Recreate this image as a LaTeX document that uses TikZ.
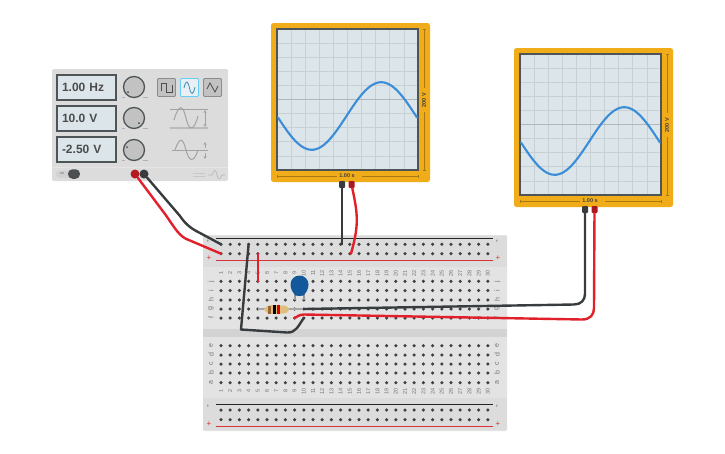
\documentclass[tikz,border=0pt]{standalone}
\usepackage{fontspec}
\setmainfont{Liberation Sans}
\usepackage{tikz}
\usetikzlibrary{arrows.meta}
\usetikzlibrary{calc}

\definecolor{panelgray}{HTML}{DCDCDC}
\definecolor{boardgray}{HTML}{E3E3E3}
\definecolor{stripgray}{HTML}{D3D3D3}
\definecolor{screenblue}{HTML}{DBE5EA}
\definecolor{scopeorange}{HTML}{F0AD19}
\definecolor{edgegray}{HTML}{4F5557}
\definecolor{gridgray}{HTML}{C6D0D5}
\definecolor{traceblue}{HTML}{3A8DD6}
\definecolor{capblue}{HTML}{14589C}
\definecolor{wireblack}{HTML}{383C3E}
\definecolor{wirered}{HTML}{E2202B}
\definecolor{railred}{HTML}{D8343A}
\definecolor{iconline}{HTML}{A2A2A2}
\definecolor{resistortan}{HTML}{E0BE7C}

\tikzset{
    display/.style={draw=edgegray, line width=2.4pt, fill=screenblue, minimum width=59pt,
        minimum height=25pt, inner sep=0pt, text=black!70, text width=49pt, align=left,
        font=\fontsize{12}{12}\selectfont\bfseries},
    knob/.style={circle, draw=edgegray, line width=1.3pt, fill=black!24, minimum size=21pt, inner sep=0pt},
    knobdot/.style={circle, fill=black!70, minimum size=2pt, inner sep=0pt},
    waveknob/.style={draw=black!45, line width=0.9pt, fill=black!24, rounded corners=1pt, minimum size=18pt, inner sep=0pt},
    hole/.style={circle, fill=black!75, minimum size=3.5pt, inner sep=0pt},
    boardtext/.style={rotate=90, text=black!55, font=\fontsize{5.5}{5.5}\selectfont, inner sep=0pt},
    scaletext/.style={text=black!75, font=\fontsize{5.5}{5.5}\selectfont\bfseries, inner sep=0pt},
    wire/.style={line width=2.4pt, line cap=round, line join=round},
    icon/.style={draw=iconline, line width=0.8pt}
}

\begin{document}
\begin{tikzpicture}[x=1pt, y=-1pt]
    \useasboundingbox (0,0) rectangle (725,453);

    % function generator
    \node[fill=panelgray, rounded corners=1.5pt, minimum width=176pt, minimum height=112pt, inner sep=0pt] (generator) at (140,125) {};
    \draw[white!25!panelgray, line width=0.6pt] (52,167) -- (228,167);
    \node[display] (frequency) at (86.5,87.5) {1.00 Hz};
    \node[display] (amplitude) at (86.5,118.5) {10.0 V};
    \node[display] (offset) at (86.5,149.5) {-2.50 V};
    \node[knob] (knobf) at (134,87) {};
    \node[knob] (knoba) at (134,118) {};
    \node[knob] (knobo) at (134,150) {};
    \node[knobdot] at (128,92) {};
    \node[knobdot] at (139,123) {};
    \node[knobdot] at (127,147) {};
    \foreach \ky in {97.5,128.5,160.5} {
        \draw[black!30, line width=0.7pt] (122,\ky) -- (125,\ky) (143,\ky) -- (148,\ky);
    }
    \node[waveknob] (square) at (166.5,87.5) {};
    \node[waveknob, draw=cyan!60, fill=screenblue!60!white] (sine) at (189.5,87.5) {};
    \node[waveknob] (triangle) at (212.5,87.5) {};
    \draw[black!70, line width=0.8pt] (161,91) -- (161,83) -- (166.5,83) -- (166.5,92) -- (172,92) -- (172,85);
    \draw[cyan!70!black, line width=0.8pt] (184,88) .. controls (186,79) and (188,81) .. (189.5,88) .. controls (191,95) and (193,96) .. (195,87);
    \draw[black!70, line width=0.8pt] (207,89) -- (210,83) -- (215,92) -- (218,86);
    % amplitude and offset icons
    \draw[icon] (170,109) -- (208,109);
    \draw[panelgray!85!black, line width=1.6pt] (170,128) -- (208,128);
    \draw[icon, line width=1pt] (174,120) .. controls (179,103) and (183,105) .. (186,118) .. controls (189,132) and (194,131) .. (198,116);
    \draw[icon, <->, >={Stealth[length=3pt,width=3pt]}] (205,110) -- (205,127);
    \draw[icon] (172,150) -- (208,150);
    \draw[icon, line width=1pt] (175,150) .. controls (180,136) and (183,138) .. (186,150) .. controls (189,162) and (194,163) .. (198,150);
    \draw[icon, ->, >={Stealth[length=3pt,width=3pt]}] (205,148) -- (205,142);
    \draw[icon, ->, >={Stealth[length=3pt,width=3pt]}] (205,153) -- (205,159);
    % footer logo
    \draw[black!22, line width=0.6pt] (193,173) -- (205,173) (193,176) -- (205,176);
    \draw[black!28, line width=0.7pt] (208,175) -- (212,175) .. controls (214,169) and (216,169) .. (217,175) .. controls (218,180) and (220,180) .. (222,175) -- (225,175);
    % switch
    \node[fill=black!18, rounded corners=3.5pt, minimum width=24pt, minimum height=7pt, inner sep=0pt] (switchbar) at (68,174) {};
    \node[fill=wireblack!90, rounded corners=4.5pt, minimum width=12pt, minimum height=9.5pt, inner sep=0pt] (switchknob) at (74,174) {};
    \node[font=\fontsize{3.5}{3.5}\selectfont, text=black!60, inner sep=0pt] at (62,174) {on};
    \node[circle, fill=wirered!80!black, minimum size=9pt, inner sep=0pt] (genred) at (135,174) {};
    \node[circle, fill=wireblack, minimum size=9pt, inner sep=0pt] (genblack) at (144,174) {};

    % oscilloscopes, the second one is only shifted
    \foreach \sx/\sy/\sname in {0/0/one, 243/25/two} {
        \begin{scope}[shift={(\sx,\sy)}]
            \node[fill=scopeorange, rounded corners=2.5pt, minimum width=159pt, minimum height=159pt, inner sep=0pt] (body\sname) at (350.5,102.5) {};
            \fill[screenblue] (277,29) rectangle (418,170);
            \foreach \gx in {1,...,9} {
                \draw[gridgray, line width=0.7pt] ({277+14.1*\gx},29) -- ({277+14.1*\gx},170);
                \draw[gridgray, line width=0.7pt] (277,{29+14.1*\gx}) -- (418,{29+14.1*\gx});
            }
            \draw[black!12!gridgray, line width=0.9pt] (277,99.5) -- (418,99.5);
            \draw[edgegray, line width=2pt] (277,29) rectangle (418,170);
            \draw[traceblue, line width=2.1pt, line cap=round] plot[domain=278:417, samples=60, smooth] (\x,{116+33.8*sin((\x-277)/139*360)});
            \draw[black!30!scopeorange, line width=0.5pt] (277,176) -- (337,176) (362,176) -- (418,176) (277,174.5) -- (277,177.5) (418,174.5) -- (418,177.5);
            \draw[black!30!scopeorange, line width=0.5pt] (424,29) -- (424,88) (424,112) -- (424,170) (422.5,29) -- (425.5,29) (422.5,170) -- (425.5,170);
            \node[scaletext] (time\sname) at (347,176) {1.00 s};
            \node[scaletext, rotate=90] (volt\sname) at (424,100) {200 V};
            \node[fill=wireblack, rounded corners=1pt, minimum width=6pt, minimum height=7pt, inner sep=0pt] (black\sname) at (342,184.5) {};
            \node[fill=wirered!75!black, rounded corners=1pt, minimum width=6pt, minimum height=7pt, inner sep=0pt] (red\sname) at (351.5,184.5) {};
        \end{scope}
    }

    % breadboard
    \node[fill=boardgray, rounded corners=1.5pt, minimum width=304pt, minimum height=196pt, inner sep=0pt] (board) at (355,333) {};
    \fill[panelgray] (203,236) rectangle (507,267);
    \fill[panelgray] (203,398) rectangle (507,430);
    \fill[stripgray] (203,329) rectangle (507,337);
    \draw[black!85, line width=0.9pt] (216,238.7) -- (493,238.7);
    \draw[railred, line width=0.9pt] (216,260.3) -- (493,260.3);
    \draw[black!85, line width=0.9pt] (216,404) -- (493,404);
    \draw[railred, line width=0.9pt] (216,426) -- (493,426);
    \foreach \px in {209,498} {
        \node[boardtext, font=\fontsize{8}{8}\selectfont, text=black!70] at (\px,241) {-};
        \node[text=railred, font=\fontsize{8}{8}\selectfont, inner sep=0pt] at (\px,258) {+};
        \node[boardtext, font=\fontsize{8}{8}\selectfont, text=black!70] at (\px,406) {-};
        \node[text=railred, font=\fontsize{8}{8}\selectfont, inner sep=0pt] at (\px,424) {+};
    }
    \foreach \c in {1,...,30} {
        \node[boardtext] at ({211.8+9.2*\c},273) {\c};
        \node[boardtext] at ({211.8+9.2*\c},391) {\c};
        \foreach \ry in {244.3,253.7,281.3,290.5,300,309,318,345.7,355,364,373,382.7,410,419.7} {
            \node[hole] at ({211.8+9.2*\c},\ry) {};
        }
    }
    \foreach \ly/\lt in {281.3/j,290.5/i,300/h,309/g,318/f,345.7/e,355/d,364/c,373/b,382.7/a} {
        \node[boardtext, font=\fontsize{7}{7}\selectfont] at (211,\ly) {\lt};
        \node[boardtext, font=\fontsize{7}{7}\selectfont] at (497,\ly) {\lt};
    }

    % capacitor
    \draw[black!40, line width=1.5pt] (295,290) -- (295,300);
    \draw[black!40, line width=1.5pt] (304,290) -- (304,300);
    \fill[capblue] (295.5,295.5) .. controls (293,292.5) and (290.5,289.5) .. (290.5,284.5) .. controls (290.5,279.5) and (294.5,275.5) .. (299.5,275.5) .. controls (304.5,275.5) and (308.5,279.5) .. (308.5,284.5) .. controls (308.5,289.5) and (306,292.5) .. (303.5,295.5) .. controls (301,296.2) and (298,296.2) .. (295.5,295.5) -- cycle;

    % resistor
    \draw[black!35, line width=1.6pt] (258,309) -- (303,309);
    \fill[resistortan] (264,309.5) .. controls (266,306) and (269,305) .. (272,305) -- (282,305.5) .. controls (286,305) and (288,307) .. (289.5,309.5) .. controls (288,312) and (286,314) .. (282,313.5) -- (272,314) .. controls (269,314) and (266,313) .. (264,309.5) -- cycle;
    \fill[brown!80!black] (267.5,305.5) rectangle (270.5,313.5);
    \fill[black] (272.5,305.2) rectangle (275.5,313.8);
    \fill[red!85!black] (277,305.4) rectangle (280,313.6);

    % named ends of the wires
    \coordinate (railblack) at (221,244.3);
    \coordinate (railredend) at (221,253.7);
    \coordinate (rowone) at (248.6,244.3);
    \coordinate (rowtwo) at (303.8,318);
    \coordinate (jumpa) at (258,253.7);
    \coordinate (jumpb) at (258,281.3);
    \coordinate (probeblack) at (304,309);
    \coordinate (probered) at (294.6,318);
    \coordinate (topblack) at (342,244.3);
    \coordinate (topred) at (351,253.7);

    % wires
    \draw[wire, wirered] (jumpa) -- (jumpb);
    \draw[wire, wireblack] (rowone) -- (241,329.5) -- (287,332.5) .. controls (296,333) and (298,326) .. (rowtwo);
    \draw[wire, wireblack] (genblack) -- (180,216) .. controls (186,225) and (192,229) .. (200,233) -- (railblack);
    \draw[wire, wirered] (genred) -- (165,214) .. controls (175,228) and (179,237) .. (190,240.5) -- (railredend);
    \draw[wire, wireblack] (blackone) -- (topblack);
    \draw[wire, wirered] (redone) .. controls (358,215) and (359,225) .. (topred);
    \draw[wire, wireblack] (probeblack) -- (574,304.5) .. controls (581,304.5) and (585,300) .. (585,294) -- (blacktwo);
    \draw[wire, wirered] (probered) .. controls (297,316.5) and (300,314.5) .. (304,314.5) -- (582,319.5) .. controls (590,319.5) and (594,315) .. (594,308) -- (redtwo);
\end{tikzpicture}
\end{document}
